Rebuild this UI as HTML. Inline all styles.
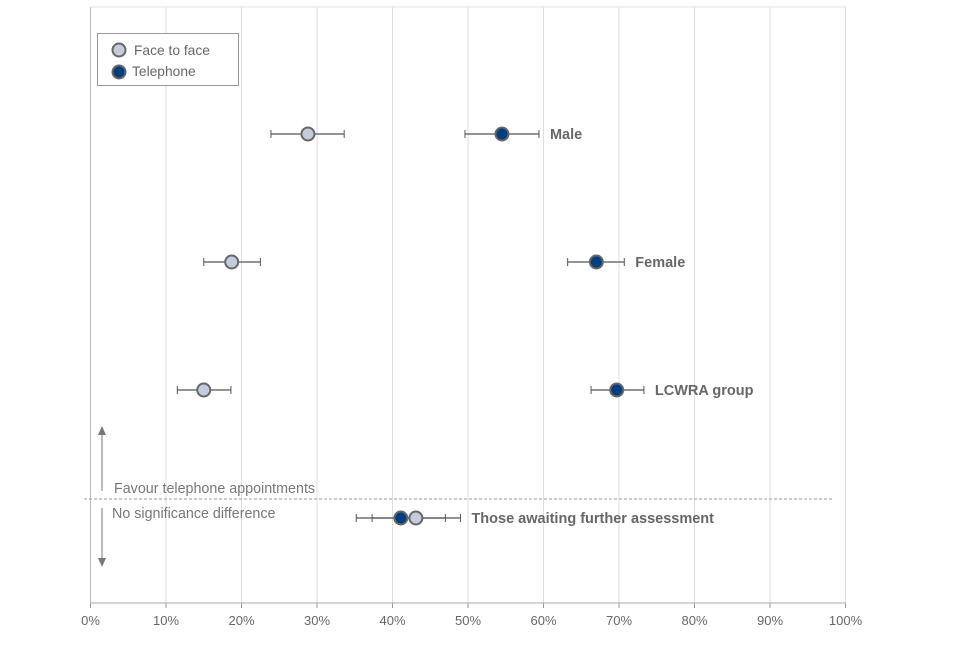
<!DOCTYPE html>
<html><head><meta charset="utf-8"><style>
body{margin:0;background:#fff;font-family:"Liberation Sans",sans-serif}
svg text{font-family:"Liberation Sans",sans-serif}
</style></head><body>
<svg width="960" height="640">
<g id="grid"></g>
<g id="marks"></g>
</svg>
<script>
const categories=["Male","Female","LCWRA group","Those awaiting further assessment"];
const f2fValues=[28.8,18.7,15.0,43.1];
const f2fLow=[23.9,15.0,11.5,37.3];
const f2fHigh=[33.6,22.5,18.6,49.0];
const telValues=[54.5,67.0,69.7,41.1];
const telLow=[49.6,63.2,66.3,35.2];
const telHigh=[59.4,70.7,73.3,47.0];
const ticks=[0,10,20,30,40,50,60,70,80,90,100];
const NS="http://www.w3.org/2000/svg";
const x=v=>90.5+v*7.55;
const rowY=i=>134+i*128;
const plotTop=7,plotBottom=603;
function mk(t,a,p){const e=document.createElementNS(NS,t);for(const k in a)e.setAttribute(k,a[k]);(p||document.getElementById('marks')).appendChild(e);return e;}
const grid=document.getElementById('grid');
mk('line',{x1:90.5,x2:846,y1:plotTop,y2:plotTop,stroke:'#e0e0e0'},grid);
ticks.forEach(t=>{
 const g=mk('line',{x1:x(t),x2:x(t),y1:plotTop,y2:plotBottom,stroke:t===0?'#bbb':'#dedede'},grid);
 
 
 mk('line',{x1:x(t),x2:x(t),y1:plotBottom,y2:plotBottom+5,stroke:'#999'},grid);
 const l=mk('text',{x:x(t),y:625,'text-anchor':'middle','font-size':13,fill:'#666'},grid);
 l.textContent=t+'%';
 
 
});
mk('line',{x1:90.5,x2:846,y1:plotBottom,y2:plotBottom,stroke:'#aaa'},grid);
const d=mk('line',{x1:84,x2:834,y1:499,y2:499,stroke:'#999','stroke-dasharray':'3,2'});


mk('line',{x1:102,x2:102,y1:491,y2:434,stroke:'#777'});
mk('polygon',{points:'98,435 106,435 102,426',fill:'#777'});
mk('line',{x1:102,x2:102,y1:508,y2:560,stroke:'#777'});
mk('polygon',{points:'98,558 106,558 102,567',fill:'#777'});
const t1=mk('text',{x:114,y:493,'font-size':14.3,fill:'#777'});
t1.textContent='Favour telephone  appointments';


const t2=mk('text',{x:112,y:518,'font-size':14.3,fill:'#777'});
t2.textContent='No significance difference';


function errbar(lo,hi,y){
 mk('line',{x1:x(lo),x2:x(hi),y1:y,y2:y,stroke:'#555','stroke-width':1.2});
 mk('line',{x1:x(lo),x2:x(lo),y1:y-4,y2:y+4,stroke:'#555'});
 mk('line',{x1:x(hi),x2:x(hi),y1:y-4,y2:y+4,stroke:'#555'});
}
categories.forEach((c,i)=>{
 const y=rowY(i);
 errbar(f2fLow[i],f2fHigh[i],y);errbar(telLow[i],telHigh[i],y);
 const a=mk('circle',{cx:x(f2fValues[i]),cy:y,r:6.5,fill:'#c3cbdc',stroke:'#666','stroke-width':2});
 
 
 const b=mk('circle',{cx:x(telValues[i]),cy:y,r:6.5,fill:'#003f7f',stroke:'#666','stroke-width':2});
 
 
 const lx=Math.max(f2fHigh[i],telHigh[i]);
 const l=mk('text',{x:x(lx)+11,y:y+5,'font-size':14.5,'font-weight':'bold',fill:'#666'});
 l.textContent=c;
 
 
});
const lg=mk('g',{});


mk('rect',{x:97.5,y:33.5,width:141,height:52,fill:'#fff',stroke:'#999'},lg);
mk('circle',{cx:119,cy:50,r:6.5,fill:'#c3cbdc',stroke:'#666','stroke-width':2},lg);
mk('circle',{cx:119,cy:72,r:6.5,fill:'#003f7f',stroke:'#666','stroke-width':2},lg);
const e1=mk('text',{x:134,y:55,'font-size':13.8,fill:'#666'},lg);
e1.textContent='Face to face';
const e2=mk('text',{x:132,y:76,'font-size':13.8,fill:'#666'},lg);
e2.textContent='Telephone';
</script>
</body></html>
